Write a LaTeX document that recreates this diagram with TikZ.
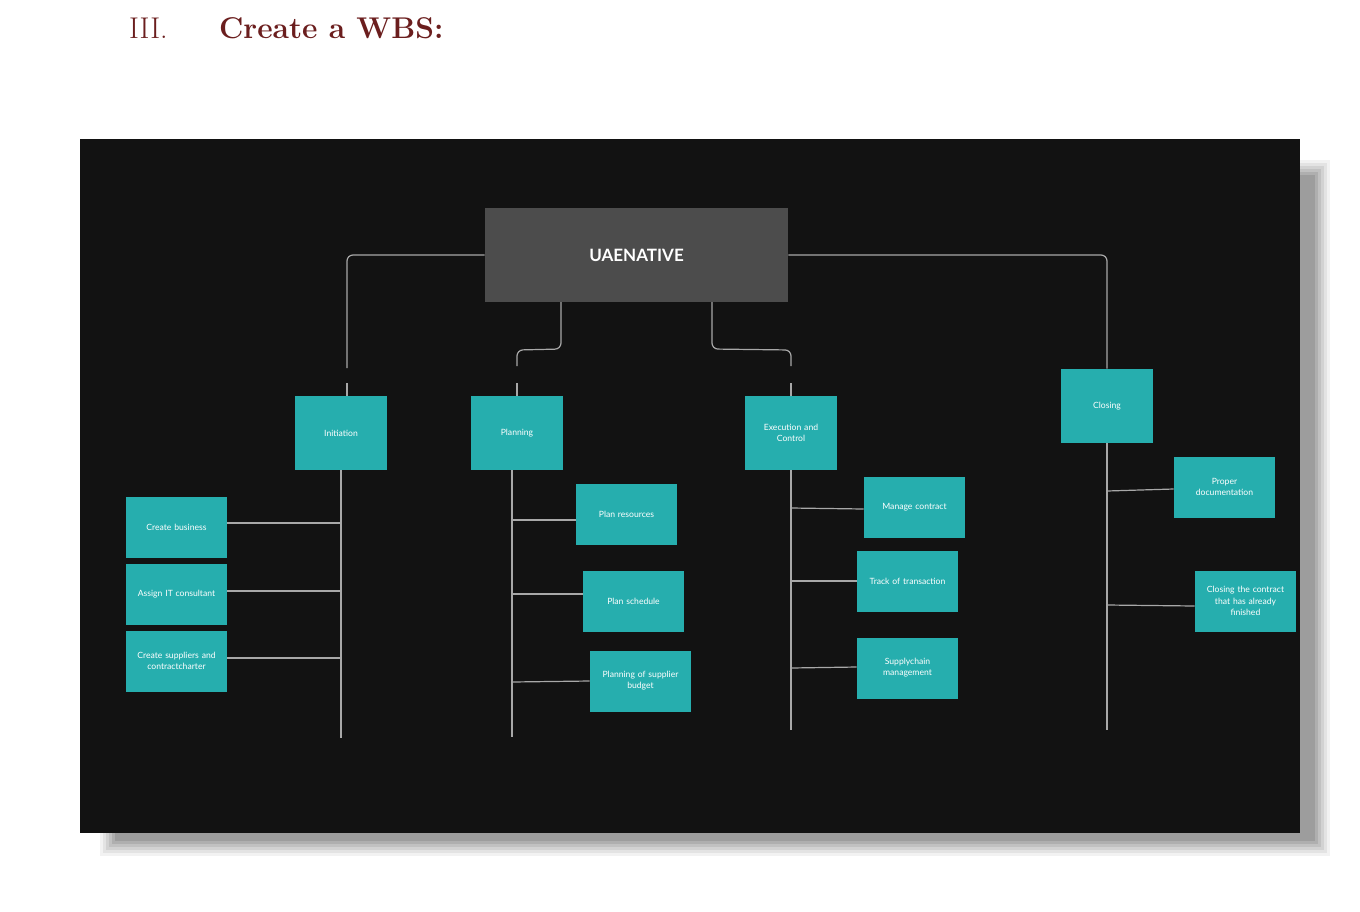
\documentclass[tikz,border=0pt]{standalone}
\usepackage{fontspec}
\setsansfont{Lato}
\begin{document}
\begin{tikzpicture}[x=0.5pt,y=-0.5pt,
  tealbox/.style={fill=tealc,minimum width=50.5pt,minimum height=30.5pt,inner sep=1pt,align=center,text=white,font=\sffamily\fontsize{4.3}{5.6}\selectfont,text width=48pt},
  bigtealbox/.style={tealbox,minimum width=46pt,minimum height=37pt,text width=44pt},
  con/.style={draw=linec,line width=0.6pt,rounded corners=3pt}]
\definecolor{tealc}{HTML}{26AEAE}
\definecolor{linec}{HTML}{A8A8A8}
\definecolor{titc}{HTML}{6B1E1E}
\useasboundingbox (0,0) rectangle (1360,911);
\fill[white] (0,0) rectangle (1360,911);
% shadow
\foreach \i/\o in {0/0.05,3/0.06,6/0.07,9/0.08,12/0.09,15/0.1}{
  \fill[black,opacity=\o] (100+\i,160+\i) rectangle (1330-\i,856-\i);}
\fill[black!93] (80,139) rectangle (1300,833);
% title
\node[anchor=west,text=titc,font=\fontsize{15}{18}\selectfont] (t1) at (122,28) {III.};
\node[anchor=west,text=titc,font=\bfseries\fontsize{15}{18}\selectfont] (t2) at (212,28) {Create a WBS:};
% root
\node[fill=black!70,minimum width=151.5pt,minimum height=47pt,text=white,font=\sffamily\bfseries\fontsize{8.5}{10}\selectfont] (root) at (636.5,255) {UAENATIVE};
% level 1
\node[bigtealbox] (ini) at (341,433) {Initiation};
\node[bigtealbox] (pla) at (517,433) {Planning};
\node[bigtealbox] (exe) at (791,433) {Execution and\\Control};
\node[bigtealbox] (clo) at (1107,406) {Closing};
% children
\node[tealbox] (c1) at (176.5,527) {Create business};
\node[tealbox] (c2) at (176.5,594) {Assign IT consultant};
\node[tealbox] (c3) at (176.5,661) {Create suppliers and\\contractcharter};
\node[tealbox] (p1) at (626.5,514) {Plan resources};
\node[tealbox] (p2) at (633.5,601) {Plan schedule};
\node[tealbox] (p3) at (640.5,681) {Planning of supplier\\budget};
\node[tealbox] (e1) at (914.5,507) {Manage contract};
\node[tealbox] (e2) at (907.5,581) {Track of transaction};
\node[tealbox] (e3) at (907.5,668) {Supplychain\\management};
\node[tealbox] (k1) at (1224.5,487) {Proper\\documentation};
\node[tealbox] (k2) at (1245.5,601) {Closing the contract\\that has already\\finished};
% top connectors
\coordinate (a1) at (347,368); \coordinate (a2) at (347,383);
\draw[con] (root.west) -| (a1);
\draw[con] (a2) -- (a2 |- ini.north);
\draw[con] (root.east) -| (clo.north);
\coordinate (b1) at (517,366); \coordinate (b2) at (517,383);
\draw[con] (561,302) -- (561,349) -- (517,350) -- (b1);
\draw[con] (b2) -- (pla.north);
\coordinate (d1) at (791,366); \coordinate (d2) at (791,383);
\draw[con] (712,302) -- (712,349) -- (791,350) -- (d1);
\draw[con] (d2) -- (exe.north);
% spines
\coordinate (ie) at (341,738); \coordinate (pe) at (512,737);
\coordinate (ee) at (791,730); \coordinate (ce) at (1107,730);
\draw[con] (ini.south) -- (ie);
\draw[con] (pla.south -| pe) -- (pe);
\draw[con] (exe.south) -- (ee);
\draw[con] (clo.south) -- (ce);
\draw[con] (c1.east |- 0,523) -- (341,523);
\draw[con] (c2.east |- 0,591) -- (341,591);
\draw[con] (c3.east |- 0,658) -- (341,658);
\draw[con] (512,520) -- (p1.west |- 0,520);
\draw[con] (512,594) -- (p2.west |- 0,594);
\draw[con] (512,682) -- (p3.west |- 0,681);
\draw[con] (791,508) -- (e1.west |- 0,509);
\draw[con] (791,581) -- (e2.west);
\draw[con] (791,668) -- (e3.west |- 0,667);
\draw[con] (1107,491) -- (k1.west |- 0,489);
\draw[con] (1107,605) -- (k2.west |- 0,606);
\end{tikzpicture}
\end{document}
